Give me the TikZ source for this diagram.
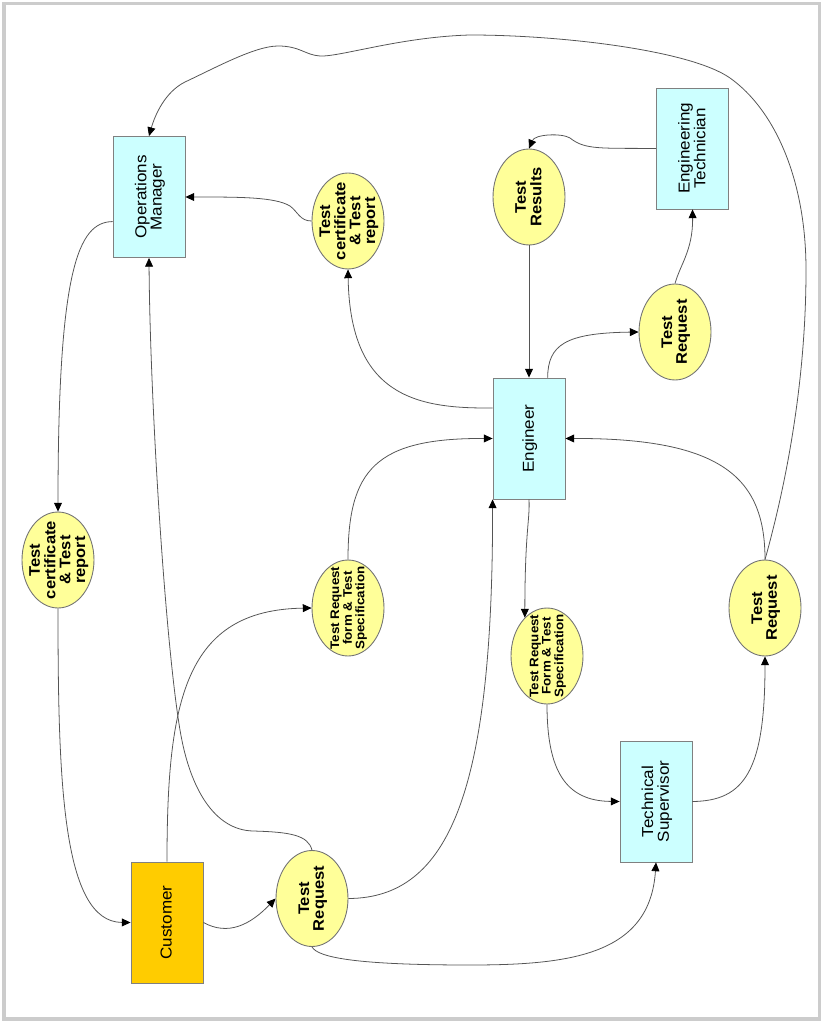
\documentclass[tikz,border=0pt]{standalone}
\usepackage{fontspec}
\setmainfont{Liberation Sans}
\definecolor{boxfill}{RGB}{204,255,255}
\definecolor{custfill}{RGB}{255,204,0}
\definecolor{bubfill}{RGB}{255,255,153}
\definecolor{linegray}{RGB}{85,85,85}
\definecolor{framegray}{RGB}{204,204,204}
\usetikzlibrary{arrows.meta}
\usetikzlibrary{shapes.geometric}
\newsavebox{\vtextbox}
\newcommand{\vtext}[1]{\sbox{\vtextbox}{\scalebox{0.93}[1]{\rotatebox{90}{\begin{tabular}{@{}c@{}}#1\end{tabular}}}}\rlap{\kern\dimexpr0.8pt-0.5\wd\vtextbox\relax\raisebox{-0.5\ht\vtextbox}[0pt][0pt]{\usebox{\vtextbox}}}}
\tikzset{
  boxnode/.style={draw=gray,fill=boxfill,line width=0.5pt,inner sep=0pt,minimum width=1.44cm,minimum height=2.42cm,font=\fontsize{9.7}{9}\selectfont},
  bubble/.style={draw=gray!90!black,fill=bubfill,ellipse,line width=0.5pt,inner sep=0pt,minimum width=1.44cm,minimum height=1.92cm,font=\fontsize{9.4}{8.9}\selectfont\bfseries},
  smallbubble/.style={bubble,font=\fontsize{7.6}{7.4}\selectfont\bfseries},
  flow/.style={draw=linegray,line width=0.45pt,-{Triangle[black,length=5pt,width=4.5pt]}}
}
\begin{document}
\begin{tikzpicture}[x=0.02cm,y=-0.02cm]
\useasboundingbox (0,0) rectangle (822,1023);
\draw [framegray,line width=1.8pt] (4,3.5) rectangle (819.5,1019);

% Actors
\node [boxnode] (ops) at (149,197) {\vtext{Operations\\Manager}};
\node [boxnode,fill=custfill] (customer) at (167,922.5) {\vtext{Customer}};
\node [boxnode] (engineer) at (529,438.5) {\vtext{Engineer}};
\node [boxnode] (supervisor) at (656,801.5) {\vtext{Technical\\Supervisor}};
\node [boxnode] (technician) at (692.5,148.5) {\vtext{Engineering\\Technician}};

% Documents
\node [bubble] (certa) at (348,221) {\vtext{Test\\certificate\\\& Test\\report}};
\node [bubble] (certb) at (58,560) {\vtext{Test\\certificate\\\& Test\\report}};
\node [bubble] (results) at (529,197) {\vtext{Test\\Results}};
\node [bubble] (reqtech) at (675,332) {\vtext{Test\\Request}};
\node [bubble] (reqsup) at (765,608) {\vtext{Test\\Request}};
\node [bubble] (reqcust) at (312,898.5) {\vtext{Test\\Request}};
\node [smallbubble] (forma) at (348,608) {\vtext{Test Request\\form \& Test\\Specification}};
\node [smallbubble] (formb) at (547,656) {\vtext{Test Request\\Form \& Test\\Specification}};

% Connectors
\draw [flow] (ops.214) .. controls (78,222) and (58,270) .. (certb.north);
\draw [flow] (certb.south) .. controls (58,780) and (62,922) .. (customer.west);
\draw [flow] (customer.east) .. controls (228,936) and (250,925) .. (reqcust.west);
\draw [flow] (customer.north) .. controls (167,700) and (185,610) .. (forma.west);
\draw [flow] (reqcust.north) .. controls (308,835) and (290,832) .. (253,831) .. controls (215,830) and (190,790) .. (180,730) .. controls (165,640) and (150,400) .. (ops.south);
\draw [flow] (reqcust.east) .. controls (450,898) and (493,790) .. (engineer.south west);
\draw [flow] (reqcust.south) .. controls (318,958) and (360,965) .. (470,965) .. controls (570,965) and (650,955) .. (supervisor.south);
\draw [flow] (forma.north) .. controls (348,470) and (375,438) .. (engineer.west);
\draw [flow] (engineer.140) .. controls (415,409) and (350,395) .. (certa.south);
\draw [flow] (certa.west) .. controls (300,221) and (298,212) .. (290,206) .. controls (275,197) and (240,197) .. (ops.east);
\draw [flow] (results.south) -- (engineer.north);
\draw [flow] (technician.west) .. controls (600,148) and (585,150) .. (570,138) .. controls (562,133) and (535,134) .. (results.north);
\draw [flow] (engineer.73) .. controls (548,345) and (565,333) .. (reqtech.west);
\draw [flow] (reqtech.north) .. controls (680,265) and (693,250) .. (technician.south);
\draw [flow] (engineer.south) .. controls (530,520) and (525,530) .. (formb.120);
\draw [flow] (formb.south) .. controls (547,770) and (565,801) .. (supervisor.west);
\draw [flow] (supervisor.east) .. controls (745,801) and (765,770) .. (reqsup.south);
\draw [flow] (reqsup.north) .. controls (765,480) and (725,438) .. (engineer.east);
\draw [flow] (reqsup.north) .. controls (790,470) and (806,370) .. (806,270) .. controls (806,180) and (775,110) .. (730,78) .. controls (690,50) and (560,35) .. (470,35) .. controls (400,37) and (340,57) .. (320,56) .. controls (305,55) and (300,46) .. (278,46) .. controls (255,46) and (215,68) .. (185,82) .. controls (165,92) and (155,115) .. (ops.north);
\end{tikzpicture}
\end{document}
